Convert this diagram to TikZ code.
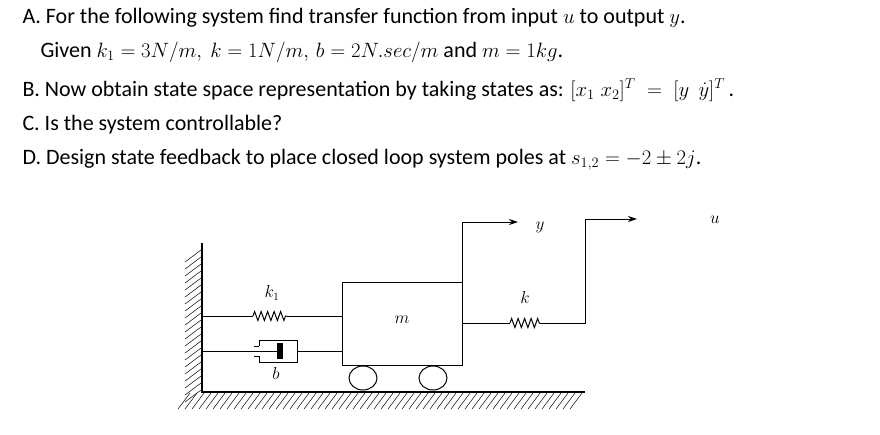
\documentclass[tikz,border=0pt]{standalone}
\usepackage{amsmath}
\usepackage{fontspec}
\setmainfont{Carlito}
\usetikzlibrary{decorations.pathmorphing,arrows.meta}
\begin{document}
\begin{tikzpicture}[x=1pt,y=-1pt,
  txt/.style={anchor=west,inner sep=0pt,font=\fontsize{22}{24}\selectfont},
  lbl/.style={inner sep=0pt,font=\fontsize{16}{18}\selectfont},
  spr/.style={decorate,decoration={zigzag,segment length=6.5,amplitude=4.5,pre length=0,post length=0}},
  hatch/.style={line width=0.5pt},
  line width=1pt]
\useasboundingbox (0,0) rectangle (880,434);
\node[txt] (t1) at (22,18) {A. For the following system find transfer function from input $u$ to output $y$.};
\node[txt] (t2) at (40,52) {Given $k_1=3N/m,\ k=1N/m,\, b=2N.sec/m$ and $m=1kg$.};
\node[txt] (t3) at (22,90) {B. Now obtain state space representation by taking states as: $[x_1\;x_2]^T\;=\;[y\;\,\dot y]^{T}$\,.};
\node[txt] (t4) at (22,125) {C. Is the system controllable?};
\node[txt] (t5) at (22,160) {D. Design state feedback to place closed loop system poles at $s_{1,2}=-2\pm 2j$.};
% ground and wall hatching
\foreach \x in {190,197,...,585} \draw[hatch] (\x,393) -- (\x-12,409);
\foreach \y in {250,257,...,392} \draw[hatch] (201,\y) -- (185,\y+12);
\draw[line width=1.6pt] (202,243) -- (202,392) -- (585,392);
% mass
\node[draw,minimum width=120,minimum height=83,inner sep=0pt] (m) at (402,323.5) {};
\node[lbl] (ml) at (402,320) {$m$};
\draw (363,378) circle[x radius=14,y radius=12];
\draw (433,378) circle[x radius=14,y radius=12];
% k1
\coordinate (w1) at (202,316);
\draw (w1) -- (253,316);
\draw[spr] (253,316) -- (287,316);
\draw (287,316) -- (342,316);
\node[lbl] (k1l) at (272,293) {$k_1$};
% damper
\coordinate (w2) at (202,351);
\draw (w2) -- (277,351);
\draw (259,346) -- (254,346) (259,356) -- (254,356);
\draw (259,346) -- (259,340) -- (297,340) -- (297,362) -- (259,362) -- (259,356);
\fill (277,343) rectangle (283,359);
\draw (297,351) -- (342,351);
\node[lbl] (bl) at (276,373) {$b$};
% y output
\coordinate (ya) at (462,282);
\draw[-{Stealth[length=9pt,width=6pt]}] (ya) -- (462,222) -- (518,222);
\node[lbl] (yl) at (540,227) {$y$};
% k spring and u
\draw (462,323) -- (510,323);
\draw[spr] (510,323) -- (540,323);
\coordinate (ua) at (585,323);
\draw[-{Stealth[length=9pt,width=6pt]}] (540,323) -- (ua) -- (585,219) -- (637,219);
\node[lbl] (kl) at (525,297) {$k$};
\node[lbl] (ul) at (715,220) {$u$};
\end{tikzpicture}
\end{document}
